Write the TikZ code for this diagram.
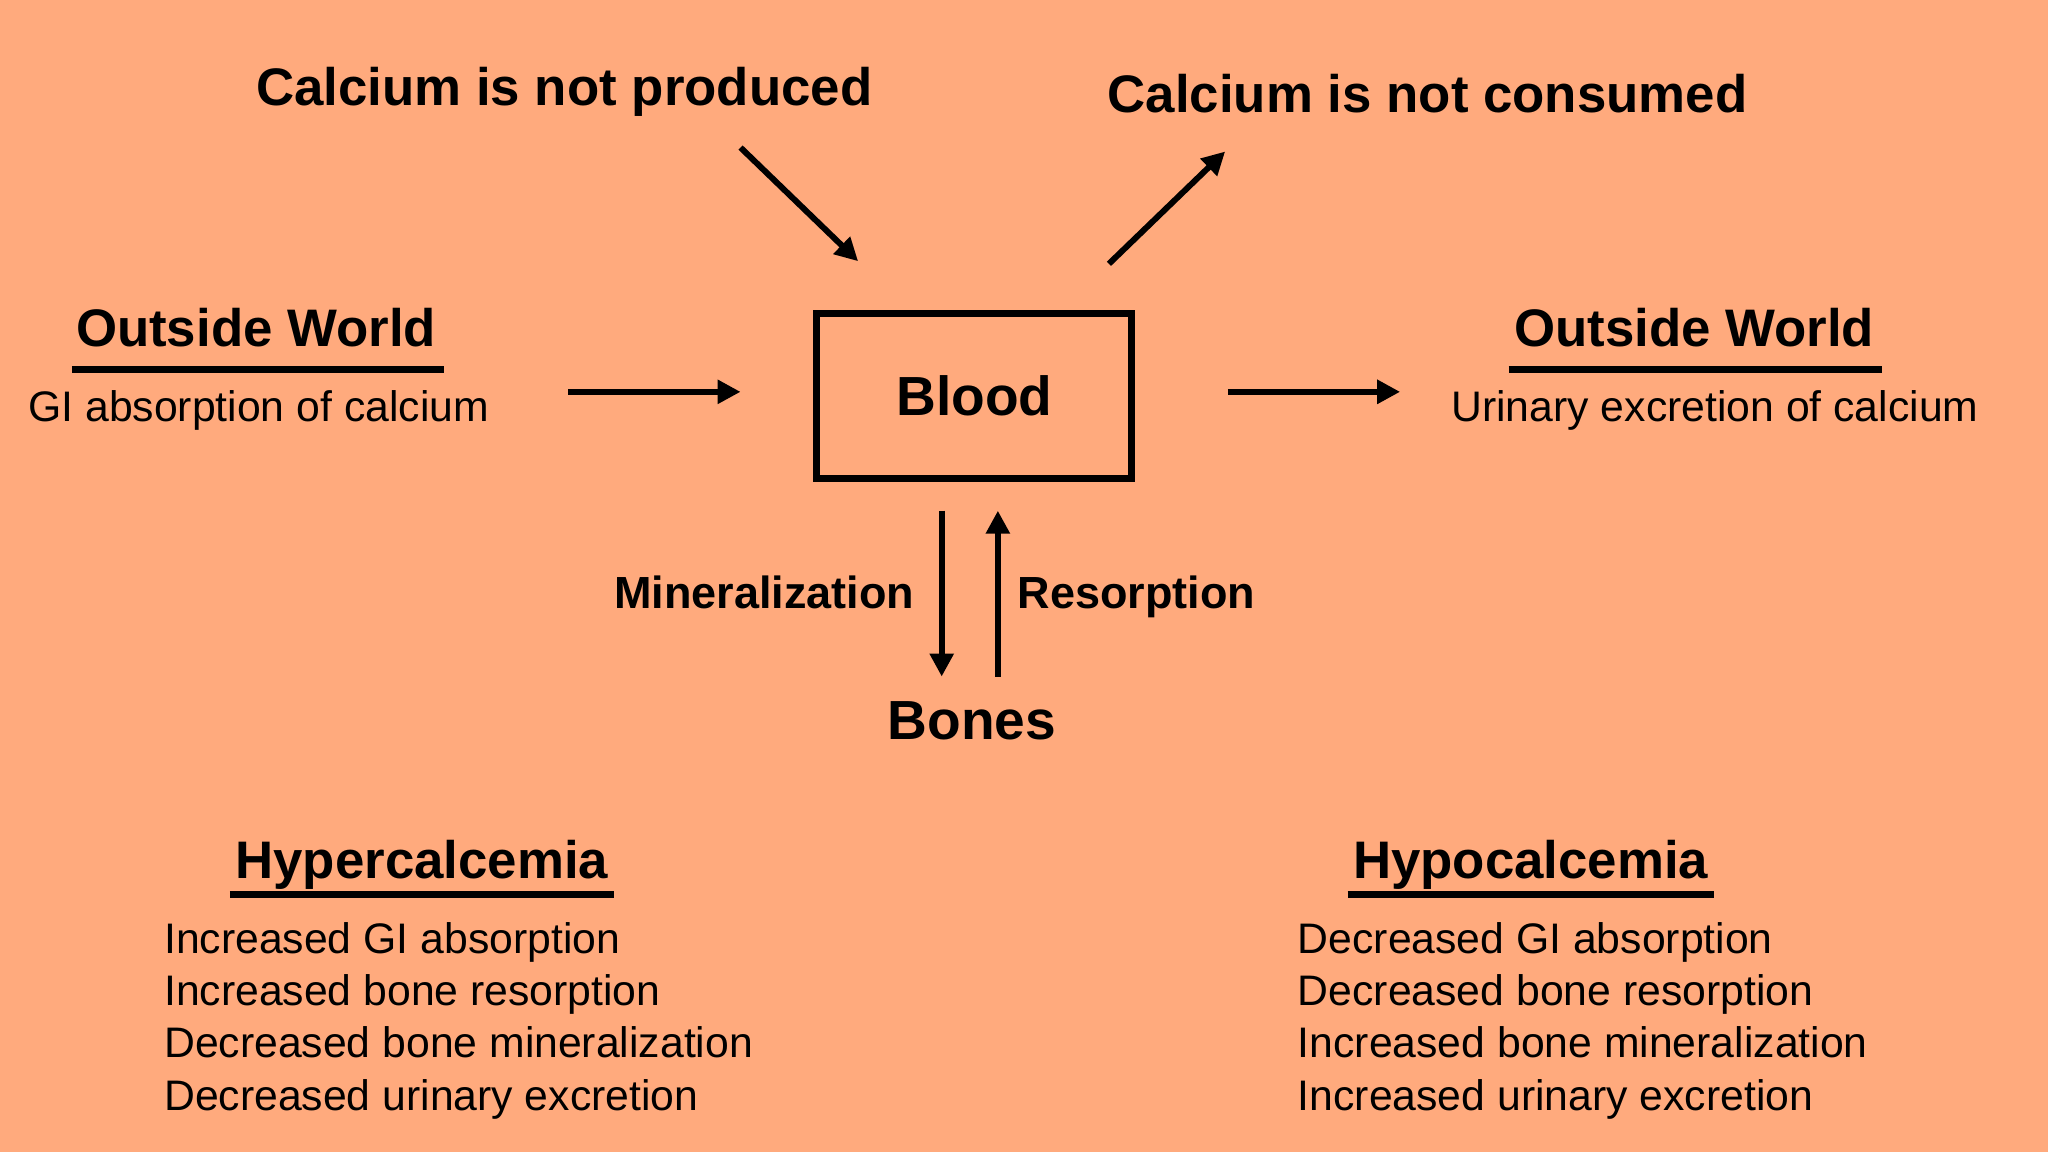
\documentclass[tikz,border=0pt]{standalone}
\usepackage{fontspec}
\setmainfont{Liberation Sans}
\usetikzlibrary{arrows.meta}
\definecolor{bgpeach}{RGB}{255,170,125}

\begin{document}
\begin{tikzpicture}[x=0.01cm,y=-0.01cm,
    head/.style={font=\bfseries\fontsize{11.5}{13}\selectfont},
    title/.style={font=\bfseries\fontsize{11.5}{13}\selectfont, inner sep=1pt},
    label/.style={font=\bfseries\fontsize{9.8}{12}\selectfont, anchor=base},
    body/.style={font=\fontsize{9.3}{11}\selectfont},
    flow/.style={line width=1.3pt, -{Triangle[length=5pt,width=5pt]}},
    rule/.style={line width=1.5pt}]
    \fill[bgpeach] (0,0) rectangle (1568,882);
    \useasboundingbox (0,0) rectangle (1568,882);

    \node[head] (prod) at (432,70) {Calcium is not produced};
    \node[head] (cons) at (1093,72) {Calcium is not consumed};

    \node[draw, line width=1.5pt, minimum width=2.41cm, minimum height=1.26cm,
          font=\bfseries\fontsize{12}{14}\selectfont] (blood) at (746,303) {Blood};
    \node[font=\bfseries\fontsize{12}{14}\selectfont] (bones) at (744,552) {Bones};

    % outside world, left and right
    \node[title] (owl) at (196,251) {Outside World};
    \node[body] (gi) at (198,314) {GI absorption of calcium};
    \node[title] (owr) at (1297,251) {Outside World};
    \node[body] (ur) at (1313,314) {Urinary excretion of calcium};
    \draw[rule] (55,283) -- (340,283);
    \draw[rule] (1155,283) -- (1441,283);

    % connectors
    \coordinate (p1) at (567,113);  \coordinate (p2) at (657,200);
    \coordinate (c1) at (849,202);  \coordinate (c2) at (938,116);
    \coordinate (l1) at (435,300);  \coordinate (l2) at (567,300);
    \coordinate (r1) at (940,300);  \coordinate (r2) at (1072,300);
    \coordinate (m1) at (721,391);  \coordinate (m2) at (721,518);
    \coordinate (s1) at (764,518);  \coordinate (s2) at (764,391);
    \draw[flow] (p1) -- (p2);
    \draw[flow] (c1) -- (c2);
    \draw[flow] (l1) -- (l2);
    \draw[flow] (r1) -- (r2);
    \draw[flow] (m1) -- (m2);
    \draw[flow] (s1) -- (s2);
    \node[label] (min) at (585,466) {Mineralization};
    \node[label] (res) at (870,466) {Resorption};

    % summaries
    \node[title] (hyper) at (323,662) {Hypercalcemia};
    \draw[rule] (hyper.south west) -- (hyper.south east);
    \node[title] (hypo) at (1172,662) {Hypocalcemia};
    \draw[rule] (hypo.south west) -- (hypo.south east);
    \foreach \t [count=\i] in {Increased GI absorption, Increased bone resorption,
        Decreased bone mineralization, Decreased urinary excretion}
      \node[body, anchor=base west, inner sep=0pt] (hr\i) at (125,690+40*\i) {\t};
    \foreach \t [count=\i] in {Decreased GI absorption, Decreased bone resorption,
        Increased bone mineralization, Increased urinary excretion}
      \node[body, anchor=base west, inner sep=0pt] (ho\i) at (993,690+40*\i) {\t};
\end{tikzpicture}
\end{document}
